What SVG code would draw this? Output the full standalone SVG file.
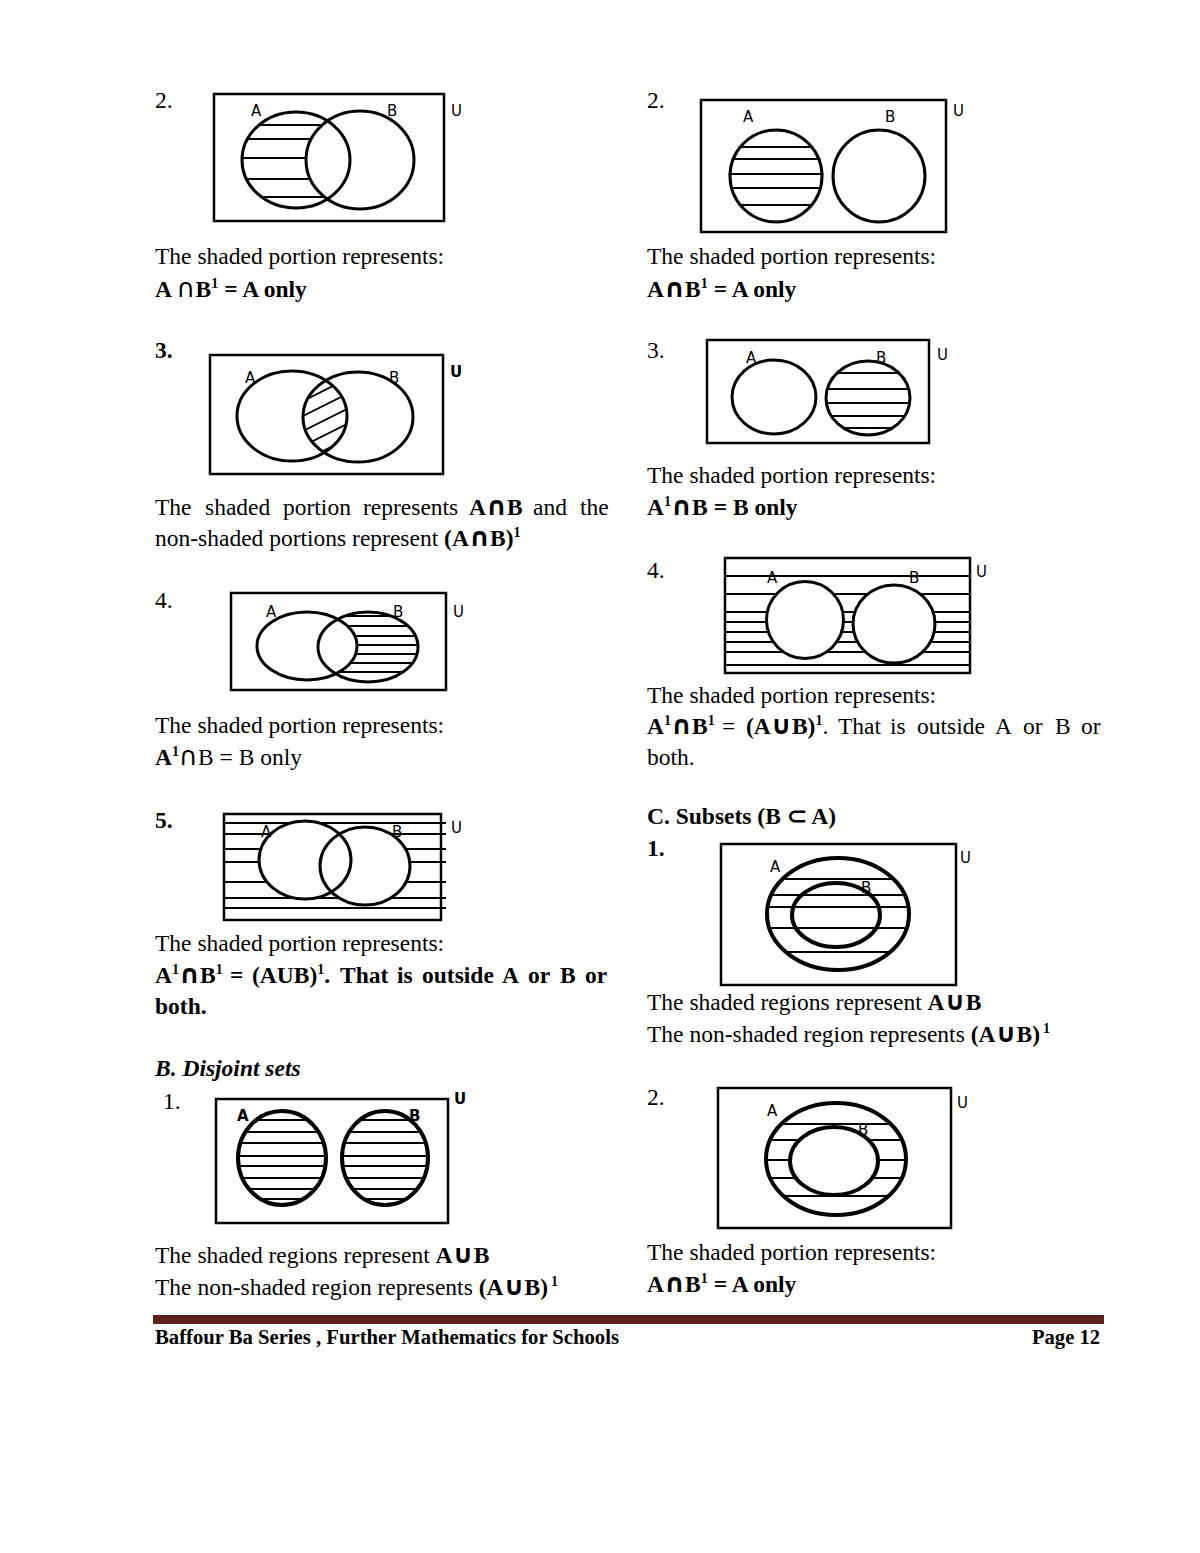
<svg xmlns="http://www.w3.org/2000/svg" width="1200" height="1553" viewBox="0 0 1200 1553">
<style>
.frame{fill:none;stroke:#000;stroke-width:2.5}
.set{fill:none;stroke:#000;stroke-width:3}
.set4{fill:none;stroke:#000;stroke-width:4}
.hatch{stroke:#000;stroke-width:2;fill:none}
.lbl{font-family:"DejaVu Sans","Liberation Sans",sans-serif;font-size:15px;fill:#000}
.lblb{font-family:"DejaVu Sans","Liberation Sans",sans-serif;font-size:15px;font-weight:bold;fill:#000}
.body{font-family:"Liberation Serif","Times New Roman",serif;font-size:23.5px;fill:#000}
.b{font-weight:bold}
.sup{font-size:14px}
.sym{font-family:"DejaVu Sans","Liberation Sans",sans-serif;font-size:26px}
.foot{font-family:"Liberation Serif","Times New Roman",serif;font-size:20px;font-weight:bold;fill:#000}
</style>
<defs>
<mask id="mL2" maskUnits="userSpaceOnUse" x="0" y="0" width="1200" height="1553"><ellipse cx="296" cy="160" rx="54" ry="48" fill="#fff"/><ellipse cx="360" cy="160" rx="54" ry="49" fill="#000"/></mask>
<clipPath id="cR2"><circle cx="776" cy="176" r="47.5"/></clipPath>
<clipPath id="cL3A"><ellipse cx="292" cy="416" rx="55" ry="45"/></clipPath>
<clipPath id="cL3B"><ellipse cx="358" cy="417" rx="55" ry="45"/></clipPath>
<clipPath id="cR3"><ellipse cx="868" cy="398" rx="42" ry="37"/></clipPath>
<mask id="mL4" maskUnits="userSpaceOnUse" x="0" y="0" width="1200" height="1553"><ellipse cx="368" cy="647" rx="50" ry="35" fill="#fff"/><ellipse cx="307" cy="646" rx="50" ry="34" fill="#000"/></mask>
<mask id="mR4" maskUnits="userSpaceOnUse" x="0" y="0" width="1200" height="1553"><rect x="725" y="558" width="245" height="115" fill="#fff"/><circle cx="805" cy="620" r="38.5" fill="#000"/><ellipse cx="894" cy="624" rx="41" ry="39" fill="#000"/></mask>
<mask id="mL5" maskUnits="userSpaceOnUse" x="0" y="0" width="1200" height="1553"><rect x="224" y="814" width="222" height="106" fill="#fff"/><ellipse cx="305" cy="860" rx="46" ry="39" fill="#000"/><ellipse cx="365" cy="866" rx="45" ry="39" fill="#000"/></mask>
<clipPath id="cDJ"><ellipse cx="282" cy="1158" rx="44" ry="47"/><ellipse cx="385" cy="1158" rx="43" ry="47"/></clipPath>
<clipPath id="cS1"><ellipse cx="838" cy="914" rx="71" ry="56"/></clipPath>
<mask id="mS2" maskUnits="userSpaceOnUse" x="0" y="0" width="1200" height="1553"><ellipse cx="836" cy="1159" rx="70" ry="56" fill="#fff"/><ellipse cx="834" cy="1161" rx="44" ry="34" fill="#000"/></mask>
</defs>
<rect width="1200" height="1553" fill="#fff"/>

<g id="venn-left-2">
<text class="body" x="155" y="108">2.</text>
<rect class="frame" x="214" y="94" width="230" height="127"/>
<g mask="url(#mL2)" class="hatch">
<line x1="230" y1="125" x2="420" y2="125"/><line x1="230" y1="139" x2="420" y2="139"/><line x1="230" y1="158" x2="420" y2="158"/><line x1="230" y1="179" x2="420" y2="179"/><line x1="230" y1="197" x2="420" y2="197"/>
</g>
<ellipse class="set" cx="296" cy="160" rx="54" ry="48"/>
<ellipse class="set" cx="360" cy="160" rx="54" ry="49"/>
<text class="lbl" x="251" y="116">A</text><text class="lbl" x="387" y="116">B</text><text class="lbl" x="451" y="116">U</text>
<text class="body" x="155" y="264">The shaded portion represents:</text>
<text class="body b" x="155" y="297">A <tspan class="sym" font-weight="normal">∩</tspan>B<tspan class="sup" dy="-9">1</tspan><tspan dy="9"> = A only</tspan></text>
</g>

<g id="venn-right-2">
<text class="body" x="647" y="108">2.</text>
<rect class="frame" x="701" y="100" width="245" height="132"/>
<g clip-path="url(#cR2)" class="hatch">
<line x1="720" y1="147" x2="830" y2="147"/><line x1="720" y1="159" x2="830" y2="159"/><line x1="720" y1="174" x2="830" y2="174"/><line x1="720" y1="188" x2="830" y2="188"/><line x1="720" y1="205" x2="830" y2="205"/>
</g>
<circle class="set" cx="776" cy="176" r="46"/>
<circle class="set" cx="879" cy="176" r="46"/>
<text class="lbl" x="743" y="122">A</text><text class="lbl" x="885" y="122">B</text><text class="lbl" x="953" y="116">U</text>
<text class="body" x="647" y="264">The shaded portion represents:</text>
<text class="body b" x="647" y="297">A<tspan class="sym">∩</tspan>B<tspan class="sup" dy="-9">1</tspan><tspan dy="9"> = A only</tspan></text>
</g>

<g id="venn-left-3">
<text class="body b" x="155" y="358">3.</text>
<rect class="frame" x="210" y="355" width="233" height="119"/>
<g clip-path="url(#cL3A)"><g clip-path="url(#cL3B)" class="hatch">
<line x1="295" y1="390" x2="355" y2="360"/><line x1="295" y1="405" x2="355" y2="375"/><line x1="295" y1="420" x2="355" y2="390"/><line x1="295" y1="435" x2="355" y2="405"/><line x1="295" y1="450" x2="355" y2="420"/><line x1="295" y1="465" x2="355" y2="435"/><line x1="295" y1="480" x2="355" y2="450"/>
</g></g>
<ellipse class="set" cx="292" cy="416" rx="55" ry="45"/>
<ellipse class="set" cx="358" cy="417" rx="55" ry="45"/>
<text class="lbl" x="245" y="383">A</text><text class="lbl" x="389" y="383">B</text><text class="lblb" x="450" y="377">U</text>
<text class="body" y="515"><tspan x="155">The</tspan><tspan x="205">shaded</tspan><tspan x="283">portion</tspan><tspan x="363">represents</tspan><tspan x="469" class="b">A<tspan class="sym">∩</tspan>B</tspan><tspan x="533">and</tspan><tspan x="580">the</tspan></text>
<text class="body" x="155" y="546">non-shaded portions represent <tspan class="b">(A<tspan class="sym">∩</tspan>B)</tspan><tspan class="sup b" dy="-9">1</tspan></text>
</g>

<g id="venn-right-3">
<text class="body" x="647" y="358">3.</text>
<rect class="frame" x="707" y="340" width="222" height="103"/>
<g clip-path="url(#cR3)" class="hatch">
<line x1="820" y1="373" x2="915" y2="373"/><line x1="820" y1="389" x2="915" y2="389"/><line x1="820" y1="403" x2="915" y2="403"/><line x1="820" y1="416" x2="915" y2="416"/><line x1="820" y1="428" x2="915" y2="428"/>
</g>
<ellipse class="set" cx="774" cy="397" rx="42" ry="37"/>
<ellipse class="set" cx="868" cy="398" rx="42" ry="37"/>
<text class="lbl" x="746" y="363">A</text><text class="lbl" x="876" y="363">B</text><text class="lbl" x="937" y="360">U</text>
<text class="body" x="647" y="483">The shaded portion represents:</text>
<text class="body b" x="647" y="515">A<tspan class="sup" dy="-9">1</tspan><tspan class="sym" dy="9">∩</tspan>B = B only</text>
</g>

<g id="venn-left-4">
<text class="body" x="155" y="608">4.</text>
<rect class="frame" x="231" y="593" width="215" height="97"/>
<g mask="url(#mL4)" class="hatch">
<line x1="310" y1="616" x2="425" y2="616"/><line x1="310" y1="626" x2="425" y2="626"/><line x1="310" y1="636" x2="425" y2="636"/><line x1="310" y1="645" x2="425" y2="645"/><line x1="310" y1="654" x2="425" y2="654"/><line x1="310" y1="663" x2="425" y2="663"/><line x1="310" y1="672" x2="425" y2="672"/>
</g>
<ellipse class="set" cx="307" cy="646" rx="50" ry="34"/>
<ellipse class="set" cx="368" cy="647" rx="50" ry="35"/>
<text class="lbl" x="266" y="617">A</text><text class="lbl" x="393" y="617">B</text><text class="lbl" x="453" y="617">U</text>
<text class="body" x="155" y="733">The shaded portion represents:</text>
<text class="body" x="155" y="765"><tspan class="b">A</tspan><tspan class="sup b" dy="-9">1</tspan><tspan class="sym" dy="9">∩</tspan>B = B only</text>
</g>

<g id="venn-right-4">
<text class="body" x="647" y="578">4.</text>
<g mask="url(#mR4)" class="hatch">
<line x1="725" y1="576" x2="970" y2="576"/><line x1="725" y1="594" x2="970" y2="594"/><line x1="725" y1="612" x2="970" y2="612"/><line x1="725" y1="622" x2="970" y2="622"/><line x1="725" y1="632" x2="970" y2="632"/><line x1="725" y1="642" x2="970" y2="642"/><line x1="725" y1="652" x2="970" y2="652"/><line x1="725" y1="665" x2="970" y2="665"/>
</g>
<rect class="frame" x="725" y="558" width="245" height="115"/>
<circle class="set" cx="805" cy="620" r="38.5"/>
<ellipse class="set" cx="894" cy="624" rx="41" ry="39"/>
<text class="lbl" x="767" y="583">A</text><text class="lbl" x="909" y="583">B</text><text class="lbl" x="976" y="577">U</text>
<text class="body" x="647" y="703">The shaded portion represents:</text>
<text class="body" y="734"><tspan x="647" class="b">A</tspan><tspan class="sup b" dy="-9">1</tspan><tspan class="sym b" dy="9">∩</tspan><tspan class="b">B</tspan><tspan class="sup b" dy="-9">1</tspan><tspan x="722" y="734">=</tspan><tspan x="746" class="b">(A<tspan class="sym">∪</tspan>B)</tspan><tspan class="sup b" dy="-9">1</tspan><tspan dy="9">.</tspan><tspan x="838">That</tspan><tspan x="890">is</tspan><tspan x="917">outside</tspan><tspan x="995">A</tspan><tspan x="1023">or</tspan><tspan x="1055">B</tspan><tspan x="1081">or</tspan></text>
<text class="body" x="647" y="765">both.</text>
</g>

<g id="venn-left-5">
<text class="body b" x="155" y="828">5.</text>
<g mask="url(#mL5)" class="hatch">
<line x1="224" y1="823" x2="446" y2="823"/><line x1="224" y1="834" x2="446" y2="834"/><line x1="224" y1="849" x2="446" y2="849"/><line x1="224" y1="862" x2="446" y2="862"/><line x1="224" y1="882" x2="446" y2="882"/><line x1="224" y1="898" x2="446" y2="898"/><line x1="224" y1="908" x2="446" y2="908"/>
</g>
<rect class="frame" x="224" y="814" width="217" height="106"/>
<ellipse class="set" cx="305" cy="860" rx="46" ry="39"/>
<ellipse class="set" cx="365" cy="866" rx="45" ry="39"/>
<text class="lbl" x="261" y="837">A</text><text class="lbl" x="392" y="837">B</text><text class="lbl" x="451" y="833">U</text>
<text class="body" x="155" y="951">The shaded portion represents:</text>
<text class="body b" y="983"><tspan x="155">A</tspan><tspan class="sup" dy="-9">1</tspan><tspan class="sym" dy="9">∩</tspan>B<tspan class="sup" dy="-9">1</tspan><tspan x="230" y="983">=</tspan><tspan x="252">(AUB)</tspan><tspan class="sup" dy="-9">1</tspan><tspan dy="9">.</tspan><tspan x="340">That</tspan><tspan x="397">is</tspan><tspan x="422">outside</tspan><tspan x="502">A</tspan><tspan x="528">or</tspan><tspan x="560">B</tspan><tspan x="585">or</tspan></text>
<text class="body b" x="155" y="1014">both.</text>
</g>

<g id="venn-disjoint-1">
<text class="body b" x="155" y="1076" font-style="italic">B. Disjoint sets</text>
<text class="body" x="163" y="1109">1.</text>
<rect class="frame" x="216" y="1099" width="232" height="124"/>
<g clip-path="url(#cDJ)" class="hatch">
<line x1="230" y1="1120" x2="440" y2="1120"/><line x1="230" y1="1132" x2="440" y2="1132"/><line x1="230" y1="1143" x2="440" y2="1143"/><line x1="230" y1="1156" x2="440" y2="1156"/><line x1="230" y1="1166" x2="440" y2="1166"/><line x1="230" y1="1178" x2="440" y2="1178"/><line x1="230" y1="1189" x2="440" y2="1189"/><line x1="230" y1="1199" x2="440" y2="1199"/>
</g>
<ellipse class="set4" cx="282" cy="1158" rx="44" ry="47"/>
<ellipse class="set4" cx="385" cy="1158" rx="43" ry="47"/>
<text class="lblb" x="237" y="1121">A</text><text class="lblb" x="409" y="1121">B</text><text class="lblb" x="454" y="1104">U</text>
<text class="body" x="155" y="1263">The shaded regions represent <tspan class="b">A<tspan class="sym">∪</tspan>B</tspan></text>
<text class="body" x="155" y="1295">The non-shaded region represents <tspan class="b">(A<tspan class="sym">∪</tspan>B)</tspan><tspan class="sup b" dx="3" dy="-9">1</tspan></text>
</g>

<g id="venn-subset-1">
<text class="body b" x="647" y="824">C.  Subsets (B ⊂ A)</text>
<text class="body b" x="647" y="856">1.</text>
<rect class="frame" x="721" y="844" width="235" height="141"/>
<g clip-path="url(#cS1)" class="hatch">
<line x1="760" y1="879" x2="915" y2="879"/><line x1="760" y1="895" x2="915" y2="895"/><line x1="760" y1="907" x2="915" y2="907"/><line x1="760" y1="928" x2="915" y2="928"/><line x1="760" y1="952" x2="915" y2="952"/>
</g>
<ellipse class="set4" cx="838" cy="914" rx="71" ry="56"/>
<ellipse class="set4" cx="836" cy="915" rx="44" ry="32"/>
<text class="lbl" x="770" y="872">A</text><text class="lbl" x="861" y="893" font-size="13">B</text><text class="lbl" x="960" y="863">U</text>
<text class="body" x="647" y="1010">The shaded regions represent <tspan class="b">A<tspan class="sym">∪</tspan>B</tspan></text>
<text class="body" x="647" y="1042">The non-shaded region represents <tspan class="b">(A<tspan class="sym">∪</tspan>B)</tspan><tspan class="sup b" dx="3" dy="-9">1</tspan></text>
</g>

<g id="venn-subset-2">
<text class="body" x="647" y="1105">2.</text>
<rect class="frame" x="718" y="1088" width="233" height="140"/>
<g mask="url(#mS2)" class="hatch">
<line x1="760" y1="1124" x2="915" y2="1124"/><line x1="760" y1="1140" x2="915" y2="1140"/><line x1="760" y1="1160" x2="915" y2="1160"/><line x1="760" y1="1178" x2="915" y2="1178"/><line x1="760" y1="1196" x2="915" y2="1196"/>
</g>
<ellipse class="set4" cx="836" cy="1159" rx="70" ry="56"/>
<ellipse class="set4" cx="834" cy="1161" rx="44" ry="34"/>
<text class="lbl" x="767" y="1116">A</text><text class="lbl" x="858" y="1135" font-size="13">B</text><text class="lbl" x="957" y="1108">U</text>
<text class="body" x="647" y="1260">The shaded portion represents:</text>
<text class="body b" x="647" y="1292">A<tspan class="sym">∩</tspan>B<tspan class="sup" dy="-9">1</tspan><tspan dy="9"> = A only</tspan></text>
</g>

<g id="footer">
<rect x="153" y="1315" width="951" height="9" fill="#5e1f1f"/>
<text class="foot" x="155" y="1344" textLength="464" lengthAdjust="spacingAndGlyphs">Baffour Ba Series , Further Mathematics for Schools</text>
<text class="foot" x="1032" y="1344" textLength="68" lengthAdjust="spacingAndGlyphs">Page 12</text>
</g>
</svg>
